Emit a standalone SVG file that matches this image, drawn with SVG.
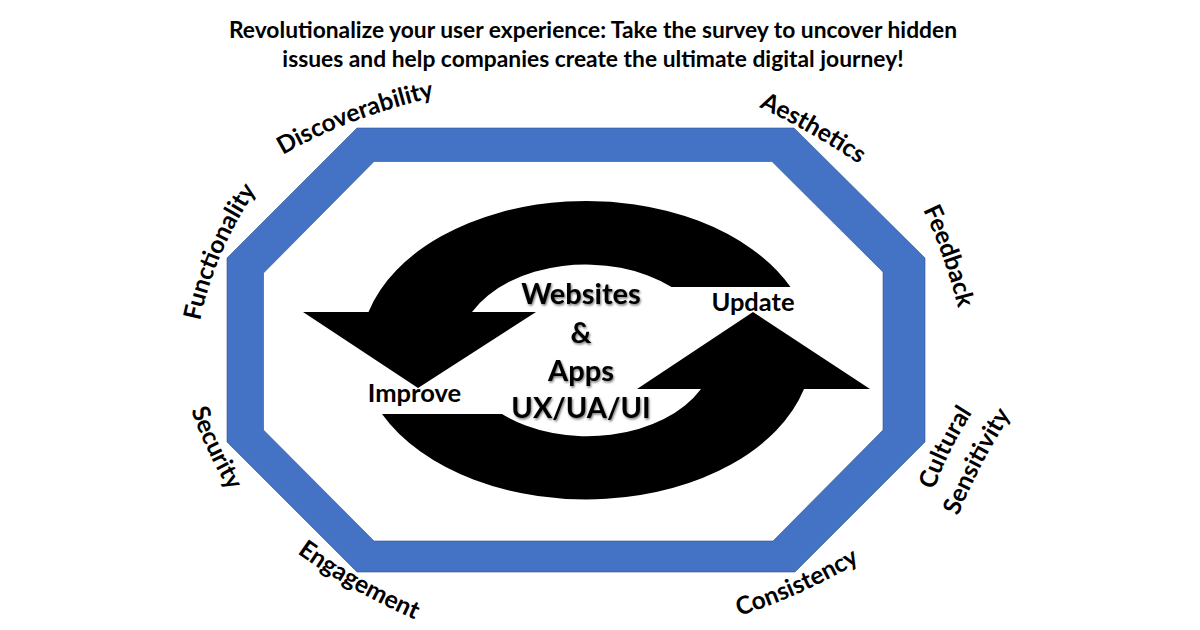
<svg xmlns="http://www.w3.org/2000/svg" width="1200" height="630" viewBox="0 0 1200 630">
<style>
text{font-family:"Lato","Liberation Sans",sans-serif;font-weight:700;fill:#000}
.title{font-size:22.800px;text-anchor:middle}
.label{font-size:24.600px}
.center{font-size:29px;text-anchor:middle;filter:url(#shadow)}
.action{font-size:25.500px;text-anchor:middle}
</style>
<defs>
<filter id="shadow" x="-20%" y="-30%" width="140%" height="160%"><feDropShadow dx="1" dy="1.5" stdDeviation="1.2" flood-color="#000" flood-opacity="0.55"/></filter>
<path id="p-disc" d="M283 155Q350 116 440 96"/>
<path id="p-func" d="M200 321Q215 250 258 188"/>
<path id="p-aest" d="M759 107Q812 132 868 170"/>
<path id="p-feed" d="M923 210Q945 255 960 316"/>
<path id="p-secu" d="M191 410Q205 450 232 496"/>
<path id="p-enga" d="M297 553Q355 595 432 627"/>
<path id="p-cons" d="M739 616Q805 595 866 558"/>
<path id="p-cult" d="M934 490Q948 450 974 410"/>
<path id="p-sens" d="M958 516Q978 466 1012 413"/>
</defs>
<rect width="1200" height="630" fill="#fff"/>
<g id="title">
<text class="title" x="593" y="38">Revolutionalize your user experience: Take the survey to uncover hidden</text>
<text class="title" x="593" y="67">issues and help companies create the ultimate digital journey!</text>
</g>
<g id="octagon">
<path fill="#4472C4" stroke="#2F528F" stroke-width="0.6" fill-rule="evenodd" d="M357 128H794L925 258V442L795 572H357L227 442V258ZM374 161.500L263.500 273V430L374 541H773L883 430V272L772 161.500Z"/>
</g>
<g id="connectors">
<path id="arrow-improve" d="M303 312H368.500A226 151 0 0 1 790.500 287H671.500A127 85.500 0 0 0 472 312H536L418 388Z"/>
<path id="arrow-update" d="M870 389H804A226 150 0 0 1 382 414H502A127 85.500 0 0 0 701 389H637L753 312Z"/>
</g>
<g id="center-label">
<text class="center" x="581" y="304">Websites</text>
<text class="center" x="581" y="343">&amp;</text>
<text class="center" x="581" y="381">Apps</text>
<text class="center" x="581" y="418">UX/UA/UI</text>
</g>
<g id="improve"><text class="action" x="414.500" y="402">Improve</text></g>
<g id="update"><text class="action" x="753" y="311">Update</text></g>
<g id="discoverability"><text class="label"><textPath href="#p-disc">Discoverability</textPath></text></g>
<g id="functionality"><text class="label"><textPath href="#p-func">Functionality</textPath></text></g>
<g id="aesthetics"><text class="label"><textPath href="#p-aest">Aesthetics</textPath></text></g>
<g id="feedback"><text class="label"><textPath href="#p-feed">Feedback</textPath></text></g>
<g id="security"><text class="label"><textPath href="#p-secu">Security</textPath></text></g>
<g id="engagement"><text class="label"><textPath href="#p-enga">Engagement</textPath></text></g>
<g id="consistency"><text class="label"><textPath href="#p-cons">Consistency</textPath></text></g>
<g id="cultural-sensitivity">
<text class="label"><textPath href="#p-cult">Cultural</textPath></text>
<text class="label"><textPath href="#p-sens">Sensitivity</textPath></text>
</g>
</svg>
